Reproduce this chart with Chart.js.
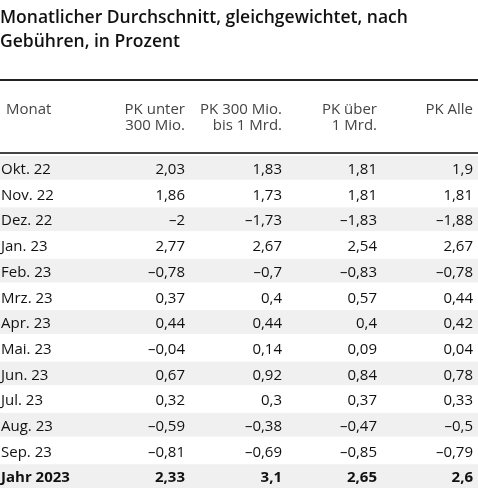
<!DOCTYPE html>
<html><head><meta charset="utf-8">
<script src="https://cdn.jsdelivr.net/npm/chart.js@4/dist/chart.umd.min.js"></script>
<style>body{margin:0;background:#fff}#w{width:478px;height:489px}</style>
</head><body><div id="w"><canvas id="c"></canvas></div>
<script>
const months = ['Okt. 22','Nov. 22','Dez. 22','Jan. 23','Feb. 23','Mrz. 23','Apr. 23','Mai. 23','Jun. 23','Jul. 23','Aug. 23','Sep. 23','Jahr 2023'];
const unter300 = [2.03,1.86,-2,2.77,-0.78,0.37,0.44,-0.04,0.67,0.32,-0.59,-0.81,2.33];
const mio300bis1 = [1.83,1.73,-1.73,2.67,-0.7,0.4,0.44,0.14,0.92,0.3,-0.38,-0.69,3.1];
const ueber1 = [1.81,1.81,-1.83,2.54,-0.83,0.57,0.4,0.09,0.84,0.37,-0.47,-0.85,2.65];
const alle = [1.9,1.81,-1.88,2.67,-0.78,0.44,0.42,0.04,0.78,0.33,-0.5,-0.79,2.6];
const headers = [['Monat'],['PK unter','300 Mio.'],['PK 300 Mio.','bis 1 Mrd.'],['PK über','1 Mrd.'],['PK Alle']];
const title = ['Monatlicher Durchschnitt, gleichgewichtet, nach','Gebühren, in Prozent'];
const colEdge = [0.06,1.85,2.82,3.77,4.73]; // Spaltenkanten in x-Einheiten

const fmt = v => (v < 0 ? '\u2013' : '') + String(Math.abs(v)).replace('.', ',');
const series = [unter300, mio300bis1, ueber1, alle];
const FONT = '"Open Sans", "Noto Sans", sans-serif';

const tablePlugin = {
  id: 'table',
  beforeDatasetsDraw(chart) {
    const {ctx, chartArea: a, scales: {x, y}} = chart;
    const h = y.getPixelForValue(1) - y.getPixelForValue(0);
    ctx.save();
    // Zebrastreifen
    months.forEach((m, i) => {
      if (i % 2 === 0) {
        ctx.fillStyle = '#f0f0f0';
        const cy = y.getPixelForValue(i);
        ctx.fillRect(a.left, cy - h / 2 + 1, a.right - a.left, h - 2);
      }
    });
    // Titel
    ctx.fillStyle = '#111';
    ctx.font = '600 17.5px ' + FONT;
    ctx.textBaseline = 'middle';
    ctx.textAlign = 'left';
    title.forEach((t, i) => ctx.fillText(t, 0, 18 + i * 24));
    // Linien
    ctx.fillStyle = '#222';
    ctx.fillRect(0, 79, 478, 2);
    ctx.fillStyle = '#444';
    ctx.fillRect(0, a.top - 3, 478, 2);
    // Kopfzeile
    ctx.font = '15px ' + FONT;
    headers.forEach((lines, c) => {
      ctx.textAlign = c === 0 ? 'left' : 'right';
      const px = x.getPixelForValue(colEdge[c]);
      lines.forEach((l, k) => ctx.fillText(l, px, 110 + k * 16));
    });
    // Zellen
    months.forEach((m, i) => {
      const cy = y.getPixelForValue(i) + 2;
      const last = i === months.length - 1;
      ctx.font = (last ? 'bold ' : '') + '15px ' + FONT;
      ctx.fillStyle = '#111';
      ctx.textAlign = 'left';
      ctx.fillText(m, x.getPixelForValue(0.01), cy);
      ctx.textAlign = 'right';
      series.forEach((s, c) => ctx.fillText(fmt(s[i]), x.getPixelForValue(colEdge[c + 1]), cy));
    });
    ctx.restore();
  }
};

new Chart(document.getElementById('c'), {
  type: 'scatter',
  data: {labels: months, datasets: [{data: []}]},
  options: {
    responsive: true, maintainAspectRatio: false, animation: false,
    layout: {padding: {top: 155, left: 0, right: 0, bottom: 0}},
    plugins: {legend: {display: false}, tooltip: {enabled: false}},
    scales: {
      x: {type: 'linear', min: 0, max: 4.78, display: false},
      y: {type: 'category', labels: months, offset: true, display: false}
    }
  },
  plugins: [tablePlugin]
});
</script></body></html>
